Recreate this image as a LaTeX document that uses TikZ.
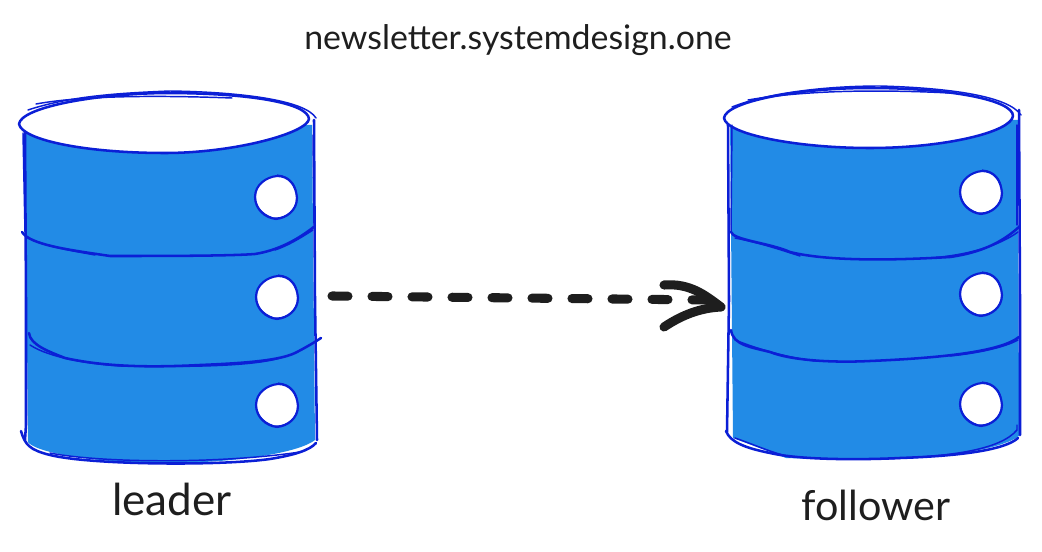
\documentclass[tikz,border=0pt]{standalone}
\usepackage{fontspec}
\setmainfont{Lato}
\definecolor{dbfill}{HTML}{228BE6}
\definecolor{dbline}{HTML}{0B1FD6}
\definecolor{ink}{HTML}{1E1E1E}
\tikzset{
  x=0.75pt,y=-0.75pt,
  bodyfill/.style={fill=dbfill,draw=none},
  sketch/.style={draw=dbline,line width=1.9pt,line cap=round,line join=round},
  thinsketch/.style={draw=dbline,line width=1.1pt,line cap=round,line join=round},
  hole/.style={fill=white,draw=dbline,line width=1.6pt},
  holeb/.style={draw=dbline,line width=0.9pt},
  lbl/.style={text=ink,inner sep=0pt},
  flow/.style={draw=ink,line width=6.8pt,line cap=round,dash pattern=on 12pt off 18pt},
  flowhead/.style={draw=ink,line width=6.8pt,line cap=round,line join=round}
}
\newcommand{\dbhole}[2]{%
  \draw[hole] (#1-21,#2) .. controls (#1-21,#2-12) and (#1-10,#2-20) .. (#1+1,#2-21)
     .. controls (#1+13,#2-21) and (#1+20,#2-12) .. (#1+21,#2+1)
     .. controls (#1+21,#2+13) and (#1+11,#2+21) .. (#1,#2+22)
     .. controls (#1-11,#2+21) and (#1-21,#2+12) .. (#1-21,#2) -- cycle;
  \draw[holeb] (#1+1,#2-22) .. controls (#1+15,#2-21) and (#1+23,#2-10) .. (#1+20,#2+6)
     .. controls (#1+17,#2+17) and (#1+6,#2+22) .. (#1-3,#2+21)
     .. controls (#1-15,#2+17) and (#1-23,#2+8) .. (#1-20,#2-6);
}
\begin{document}
\begin{tikzpicture}
\useasboundingbox (0,0) rectangle (1042,552);
\fill[white] (0,0) rectangle (1042,552);

% ---------- leader ----------
\fill[bodyfill] (25,125) -- (312,125) -- (315,440)
   .. controls (300,452) and (240,463) .. (165,463)
   .. controls (90,463) and (35,452) .. (28,442) -- cycle;
\draw[fill=white,sketch] (19,124) .. controls (21,108) and (90,94) .. (165,93)
   .. controls (250,93) and (308,103) .. (309,119)
   .. controls (307,133) and (235,153) .. (165,153)
   .. controls (85,153) and (22,140) .. (19,124) -- cycle;
\draw[thinsketch] (28,110) .. controls (70,96) and (120,93) .. (170,91)
   .. controls (240,92) and (305,100) .. (316,118);
\draw[thinsketch] (36,104) .. controls (80,96) and (150,95) .. (232,98);
\draw[sketch] (25,132) -- (26,300) -- (26,425) -- (25,440);
\draw[thinsketch] (23,133) -- (25,232);
\draw[sketch] (314,120) -- (315,300) -- (317,440);
\draw[thinsketch] (313,135) -- (314,225);
\draw[sketch] (22,232) .. controls (30,245) and (70,250) .. (110,256)
   .. controls (160,256) and (230,256) .. (255,254)
   .. controls (280,250) and (300,238) .. (315,226);
\draw[thinsketch] (28,238) .. controls (50,248) and (80,252) .. (95,255);
\draw[thinsketch] (275,250) .. controls (290,245) and (305,235) .. (313,230);
\draw[sketch] (29,333) .. controls (30,345) and (50,352) .. (65,358)
   .. controls (110,368) and (160,367) .. (200,365)
   .. controls (250,363) and (280,360) .. (295,353)
   .. controls (305,348) and (315,342) .. (321,338);
\draw[thinsketch] (30,345) .. controls (50,358) and (90,364) .. (120,366)
   .. controls (180,367) and (250,367) .. (280,358);
\draw[sketch] (21,431) .. controls (25,445) and (30,450) .. (50,455)
   .. controls (90,465) and (220,466) .. (270,459)
   .. controls (295,455) and (310,450) .. (316,443);
\draw[thinsketch] (50,453) .. controls (100,463) and (220,464) .. (300,452);
\dbhole{276}{197}
\dbhole{277}{297}
\dbhole{277}{405}

% ---------- follower ----------
\fill[bodyfill] (730,120) -- (1018,120) -- (1019,436)
   .. controls (1000,450) and (940,459) .. (870,459)
   .. controls (840,459) and (810,459) .. (786,458) -- (733,438) -- cycle;
\draw[fill=white,sketch] (724,118) .. controls (726,102) and (795,88) .. (870,88)
   .. controls (950,88) and (1013,100) .. (1013,116)
   .. controls (1011,132) and (945,148) .. (870,148)
   .. controls (795,148) and (726,134) .. (724,118) -- cycle;
\draw[thinsketch] (732,107) .. controls (770,92) and (830,86) .. (880,86)
   .. controls (950,88) and (1008,96) .. (1021,115);
\draw[thinsketch] (748,100) .. controls (800,91) and (870,89) .. (950,93);
\draw[sketch] (728,125) -- (729,300) -- (727,432);
\draw[thinsketch] (732,125) -- (731,232);
\draw[sketch] (1019,110) -- (1020,300) -- (1020,435);
\draw[thinsketch] (1017,125) -- (1017,225);
\draw[sketch] (731,232) .. controls (733,240) and (770,243) .. (790,252)
   .. controls (830,262) and (900,260) .. (950,257)
   .. controls (985,252) and (1005,240) .. (1020,226);
\draw[thinsketch] (735,238) .. controls (760,243) and (775,248) .. (800,256);
\draw[thinsketch] (930,258) .. controls (970,255) and (1000,245) .. (1018,232);
\draw[sketch] (731,330) .. controls (733,345) and (750,347) .. (770,352)
   .. controls (790,360) and (830,363) .. (870,361)
   .. controls (940,358) and (1000,352) .. (1019,337);
\draw[thinsketch] (735,340) .. controls (760,350) and (790,358) .. (815,361);
\draw[thinsketch] (950,356) .. controls (980,353) and (1005,347) .. (1018,340);
\draw[sketch] (726,431) .. controls (730,442) and (745,448) .. (770,453)
   .. controls (800,460) and (860,460) .. (900,458)
   .. controls (960,456) and (1005,450) .. (1018,438);
\draw[thinsketch] (735,438) .. controls (755,445) and (770,452) .. (790,457);
\draw[thinsketch] (880,459) .. controls (950,457) and (1000,450) .. (1017,430) -- (1017,425);
\dbhole{981}{192}
\dbhole{981}{294}
\dbhole{981}{404}

% ---------- connector ----------
\coordinate (from) at (332,296);
\coordinate (to) at (708,300);
\coordinate (tip) at (721,307);
\coordinate (barbup) at (664,285);
\coordinate (barbdown) at (664,327);
\draw[flow] (from) -- (to);
\draw[flowhead] (barbup) .. controls (690,283) and (705,295) .. (tip)
   .. controls (700,308) and (682,315) .. (barbdown);

% ---------- labels ----------
\node[lbl,font=\fontsize{25.4}{30}\selectfont] (title) at (518,40) {newsletter.systemdesign.one};
\node[lbl,font=\fontsize{33}{38}\selectfont] (leader) at (172,499) {leader};
\node[lbl,font=\fontsize{31}{36}\selectfont] (follower) at (876,505) {follower};
\end{tikzpicture}
\end{document}
